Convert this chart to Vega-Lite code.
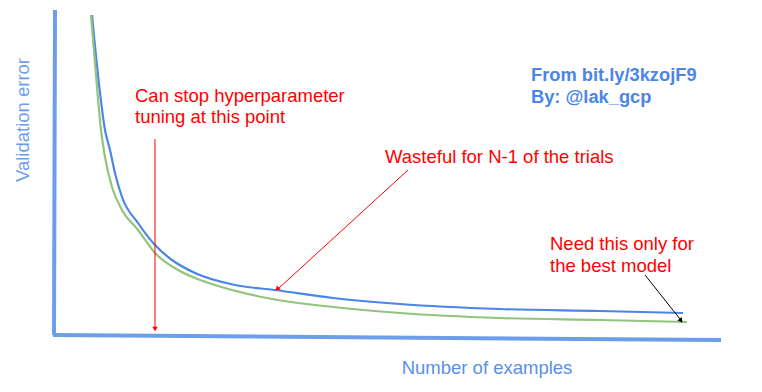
{
  "$schema": "https://vega.github.io/schema/vega-lite/v6.json",
  "width": 762,
  "height": 392,
  "autosize": {"type": "none"},
  "padding": 0,
  "background": "white",
  "config": {"view": {"stroke": null}},
  "datasets": {
    "axes": [
      {"part": "y-axis", "x": 55, "y": 382, "x2": 54, "y2": 57},
      {"part": "x-axis", "x": 53, "y": 57, "x2": 721, "y2": 52}
    ],
    "curves": [
      {"trial": "other", "x": 92, "y": 377}, {"trial": "other", "x": 98, "y": 317}, {"trial": "other", "x": 105, "y": 262},
      {"trial": "other", "x": 110, "y": 242}, {"trial": "other", "x": 115, "y": 219}, {"trial": "other", "x": 122, "y": 195},
      {"trial": "other", "x": 138, "y": 169}, {"trial": "other", "x": 155, "y": 147}, {"trial": "other", "x": 172, "y": 132},
      {"trial": "other", "x": 195, "y": 119}, {"trial": "other", "x": 235, "y": 107}, {"trial": "other", "x": 275, "y": 102},
      {"trial": "other", "x": 333, "y": 94}, {"trial": "other", "x": 400, "y": 88}, {"trial": "other", "x": 500, "y": 83},
      {"trial": "other", "x": 600, "y": 81}, {"trial": "other", "x": 683, "y": 79},
      {"trial": "best", "x": 91, "y": 377}, {"trial": "best", "x": 96, "y": 317}, {"trial": "best", "x": 101, "y": 262},
      {"trial": "best", "x": 105, "y": 235}, {"trial": "best", "x": 112, "y": 205}, {"trial": "best", "x": 122, "y": 182},
      {"trial": "best", "x": 138, "y": 162}, {"trial": "best", "x": 155, "y": 139}, {"trial": "best", "x": 178, "y": 122},
      {"trial": "best", "x": 195, "y": 114}, {"trial": "best", "x": 225, "y": 104}, {"trial": "best", "x": 267, "y": 94},
      {"trial": "best", "x": 333, "y": 85}, {"trial": "best", "x": 400, "y": 79}, {"trial": "best", "x": 500, "y": 74},
      {"trial": "best", "x": 600, "y": 72}, {"trial": "best", "x": 687, "y": 70}
    ],
    "redArrows": [
      {"x": 155, "y": 253, "x2": 155, "y2": 65, "hx": 155, "hy": 63, "angle": 180},
      {"x": 408, "y": 222, "x2": 279, "y2": 104, "hx": 277.2, "hy": 103, "angle": 227}
    ],
    "blackArrows": [
      {"x": 645, "y": 117, "x2": 680, "y2": 73, "hx": 681, "hy": 71.4, "angle": 142}
    ],
    "redText": [
      {"x": 135, "y": 290, "text": "Can stop hyperparameter"},
      {"x": 135, "y": 269, "text": "tuning at this point"},
      {"x": 385, "y": 229, "text": "Wasteful for N-1 of the trials"},
      {"x": 550, "y": 142, "text": "Need this only for"},
      {"x": 550, "y": 120, "text": "the best model"}
    ],
    "credit": [
      {"x": 531, "y": 311, "text": "From bit.ly/3kzojF9"},
      {"x": 531, "y": 289, "text": "By: @lak_gcp"}
    ],
    "xTitle": [{"x": 487, "y": 18, "text": "Number of examples"}],
    "yTitle": [{"x": 29, "y": 272, "text": "Validation error"}]
  },
  "layer": [
    {
      "data": {"name": "axes"},
      "mark": {"type": "rule", "color": "#6d9eeb", "strokeWidth": 4},
      "encoding": {
        "x": {"field": "x", "type": "quantitative", "scale": {"domain": [0, 762], "nice": false, "zero": false}, "axis": null},
        "y": {"field": "y", "type": "quantitative", "scale": {"domain": [0, 392], "nice": false, "zero": false}, "axis": null},
        "x2": {"field": "x2"},
        "y2": {"field": "y2"}
      }
    },
    {
      "data": {"name": "curves"},
      "mark": {"type": "line", "interpolate": "monotone", "strokeWidth": 2.2},
      "encoding": {
        "x": {"field": "x", "type": "quantitative"},
        "y": {"field": "y", "type": "quantitative"},
        "detail": {"field": "trial"},
        "color": {"field": "trial", "type": "nominal", "scale": {"domain": ["other", "best"], "range": ["#4a86e8", "#93c47d"]}, "legend": null}
      }
    },
    {
      "data": {"name": "redArrows"},
      "layer": [
        {"mark": {"type": "rule", "color": "#ff0000", "strokeWidth": 1},
         "encoding": {"x": {"field": "x", "type": "quantitative"}, "y": {"field": "y", "type": "quantitative"}, "x2": {"field": "x2"}, "y2": {"field": "y2"}}},
        {"mark": {"type": "point", "shape": "triangle-up", "filled": true, "color": "#ff0000", "size": 30, "opacity": 1},
         "encoding": {"x": {"field": "hx", "type": "quantitative"}, "y": {"field": "hy", "type": "quantitative"}, "angle": {"field": "angle", "type": "quantitative", "scale": null}}}
      ]
    },
    {
      "data": {"name": "blackArrows"},
      "layer": [
        {"mark": {"type": "rule", "color": "#000000", "strokeWidth": 1},
         "encoding": {"x": {"field": "x", "type": "quantitative"}, "y": {"field": "y", "type": "quantitative"}, "x2": {"field": "x2"}, "y2": {"field": "y2"}}},
        {"mark": {"type": "point", "shape": "triangle-up", "filled": true, "color": "#000000", "size": 30, "opacity": 1},
         "encoding": {"x": {"field": "hx", "type": "quantitative"}, "y": {"field": "hy", "type": "quantitative"}, "angle": {"field": "angle", "type": "quantitative", "scale": null}}}
      ]
    },
    {
      "data": {"name": "redText"},
      "mark": {"type": "text", "align": "left", "baseline": "alphabetic", "font": "Liberation Sans", "fontSize": 18.5, "color": "#ff0000"},
      "encoding": {"x": {"field": "x", "type": "quantitative"}, "y": {"field": "y", "type": "quantitative"}, "text": {"field": "text"}}
    },
    {
      "data": {"name": "credit"},
      "mark": {"type": "text", "align": "left", "baseline": "alphabetic", "font": "Liberation Sans", "fontSize": 18.3, "fontWeight": "bold", "color": "#4a86e8"},
      "encoding": {"x": {"field": "x", "type": "quantitative"}, "y": {"field": "y", "type": "quantitative"}, "text": {"field": "text"}}
    },
    {
      "data": {"name": "xTitle"},
      "mark": {"type": "text", "align": "center", "baseline": "alphabetic", "font": "Liberation Sans", "fontSize": 18.5, "color": "#5b8fe6"},
      "encoding": {"x": {"field": "x", "type": "quantitative"}, "y": {"field": "y", "type": "quantitative"}, "text": {"field": "text"}}
    },
    {
      "data": {"name": "yTitle"},
      "mark": {"type": "text", "align": "center", "baseline": "alphabetic", "angle": 270, "font": "Liberation Sans", "fontSize": 18.5, "color": "#6d9eeb"},
      "encoding": {"x": {"field": "x", "type": "quantitative"}, "y": {"field": "y", "type": "quantitative"}, "text": {"field": "text"}}
    }
  ]
}
